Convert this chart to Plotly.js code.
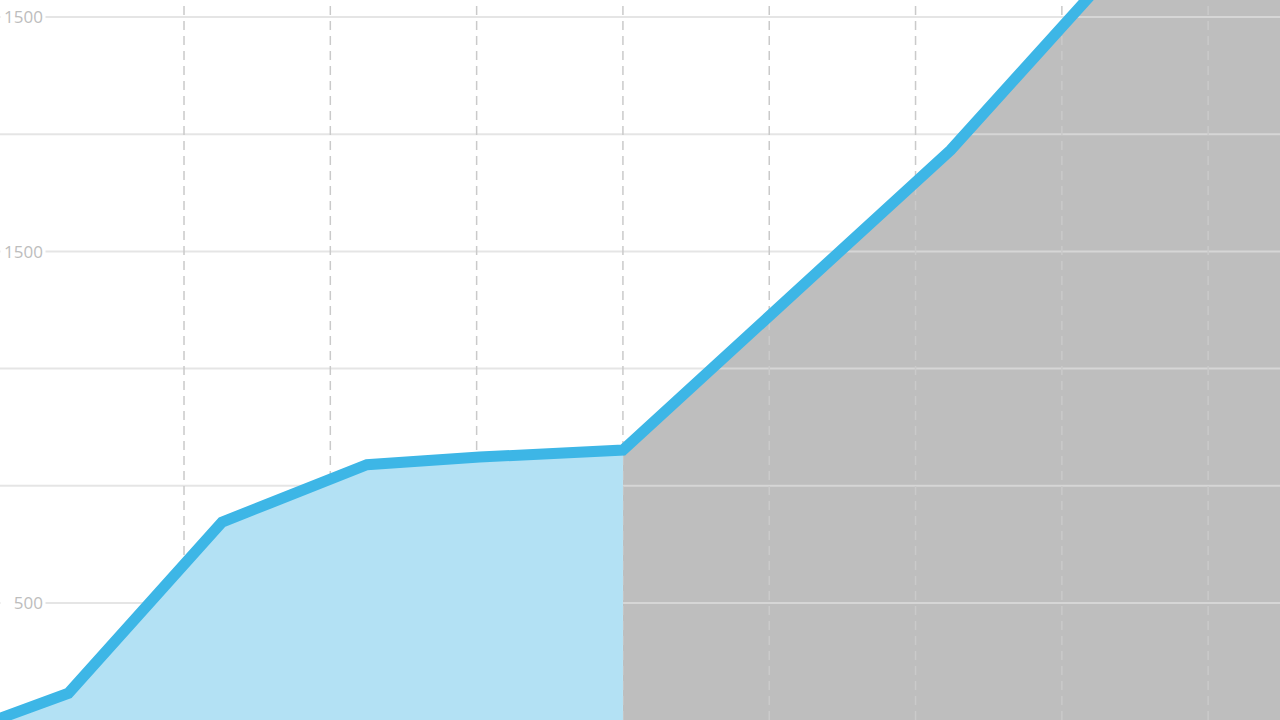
<!DOCTYPE html>
<html>
<head>
<meta charset="utf-8">
<script src="https://cdn.plot.ly/plotly-3.0.1.min.js"></script>
<style>html,body{margin:0;padding:0;background:#fff;}#chart{width:1280px;height:720px;}</style>
</head>
<body>
<div id="chart"></div>
<script>
// Observed series (x in grid-column units, y in chart units)
const actualX = [-0.5, 0.21, 1.26, 2.25, 3.02, 4];
const actualY = [281, 346, 638, 736, 749, 761];
const projectedX = [4, 6.24, 7.16, 8, 9];
const projectedY = [761, 1273, 1529, 1760, 2035];
// Grid values
const hGrid = [500, 700, 900, 1100, 1300, 1500];
const vGrid = [1, 2, 3, 4, 5, 6, 7, 8];
// Tick labels shown
const tickVals = [1500, 1100, 500];
const tickText = ["1500", "1500", "500"];

const xRange = [-0.2577, 8.491];
const yRange = [300.3, 1529];

const lineX = actualX.concat(projectedX.slice(1));
const lineY = actualY.concat(projectedY.slice(1));

const hx = [], hy = [];
hGrid.forEach(v => { hx.push(xRange[0], xRange[1], null); hy.push(v, v, null); });
const vx = [], vy = [];
vGrid.forEach(v => { vx.push(v, v, null); vy.push(yRange[0], yRange[1], null); });

const traces = [
  {x: projectedX, y: projectedY, type: 'scatter', mode: 'lines', fill: 'tozeroy',
   fillcolor: '#bebebe', line: {width: 0, color: 'rgba(0,0,0,0)'}, hoverinfo: 'skip'},
  {x: hx, y: hy, type: 'scatter', mode: 'lines', line: {color: 'rgba(221,221,221,0.76)', width: 2}, hoverinfo: 'skip'},
  {x: vx, y: vy, type: 'scatter', mode: 'lines', line: {color: '#cacaca', width: 1.5, dash: '9px,6px'}, hoverinfo: 'skip'},
  {x: actualX, y: actualY, type: 'scatter', mode: 'lines', fill: 'tozeroy',
   fillcolor: '#b3e1f4', line: {width: 0, color: 'rgba(0,0,0,0)'}, hoverinfo: 'skip'},
  {x: lineX, y: lineY, type: 'scatter', mode: 'lines', line: {color: '#3db6e6', width: 11}, hoverinfo: 'skip'}
];

const annotations = tickVals.map((v, i) => ({
  x: 0, xref: 'paper', xanchor: 'left', y: v, yref: 'y', yanchor: 'middle',
  text: tickText[i], showarrow: false, width: 40, align: 'right',
  bgcolor: '#ffffff', borderpad: 2,
  font: {family: 'Open Sans, sans-serif', size: 17, color: '#bdbdbd'}
}));

const layout = {
  width: 1280, height: 720,
  margin: {l: 0, r: 0, t: 0, b: 0},
  paper_bgcolor: '#ffffff', plot_bgcolor: '#ffffff',
  showlegend: false,
  xaxis: {range: xRange, showgrid: false, zeroline: false, showticklabels: false, showline: false, fixedrange: true},
  yaxis: {range: yRange, showgrid: false, zeroline: false, showticklabels: false, showline: false, fixedrange: true},
  annotations: annotations
};

Plotly.newPlot('chart', traces, layout, {displayModeBar: false, staticPlot: true});
</script>
</body>
</html>
